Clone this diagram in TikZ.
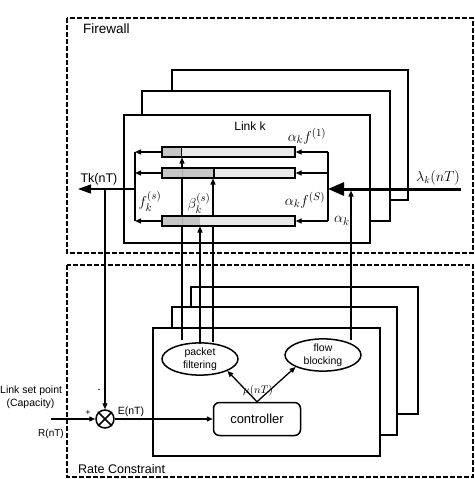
\documentclass[tikz,border=0pt]{standalone}
\usepackage{fontspec}
\setmainfont{Liberation Sans}
\usetikzlibrary{arrows.meta,shapes.geometric}
\begin{document}
\begin{tikzpicture}[x=1pt,y=-1pt,
  box/.style={draw,line width=1.5pt,fill=white},
  zone/.style={draw,line width=1.6pt,dash pattern=on 5pt off 2pt},
  wire/.style={line width=1.3pt},
  arr/.style={wire,-{Triangle[length=6pt,width=5pt]}},
  bar/.style={draw,line width=1.3pt,minimum width=133pt,minimum height=10pt,inner sep=0pt},
  shade/.style={fill=gray!45},
  lbl/.style={inner sep=0pt,font=\fontsize{10.5}{12}\selectfont},
  mlbl/.style={inner sep=0pt,font=\fontsize{15}{16}\selectfont},
  oval/.style={draw,line width=1.5pt,ellipse,minimum width=76pt,minimum height=31pt,inner sep=0pt,align=center,font=\fontsize{10.5}{13}\selectfont}]
\useasboundingbox (0,0) rectangle (474,479);
% zones
\draw[zone] (67,18) rectangle (473,253);
\draw[zone] (67,265) rectangle (473,477);
\node[lbl,font=\fontsize{13.5}{15}\selectfont,anchor=west] (fw) at (83,29) {Firewall};
\node[lbl,font=\fontsize{12.5}{14}\selectfont,anchor=west] (rc) at (78,469) {Rate Constraint};
% firewall link boxes
\draw[box] (172,70) rectangle (408,200);
\draw[box] (142,91) rectangle (390,221);
\draw[box] (124,115) rectangle (370,243);
\node[lbl,font=\fontsize{12}{14}\selectfont] (lk) at (250,126) {Link k};
% rate constraint boxes
\draw[box] (191,287) rectangle (418,414);
\draw[box] (172,307) rectangle (397,435);
\draw[box] (153,328) rectangle (380,456);
% control lines up (drawn beneath the bars)
\coordinate (p1) at (182,340);
\coordinate (p2) at (200,344);
\coordinate (p3) at (213,342);
\coordinate (p4) at (351,340);
\draw[arr] (p1) -- (182,157.5);
\draw[arr] (p2) -- (200,226.5);
\draw[arr] (p3) -- (213,178.5);
\draw[arr] (p4) -- (351,190.5);
% bars
\node[bar,fill=gray!18] (b1) at (228.5,152) {};
\node[bar,fill=gray!18] (b2) at (228.5,173) {};
\node[bar,fill=gray!18] (b3) at (228.5,221) {};
\fill[shade] (162.6,147.6) rectangle (181,156.4);
\fill[shade] (162.6,168.6) rectangle (214,177.4);
\fill[shade] (162.6,216.6) rectangle (200,225.4);
\draw[line width=0.8pt,gray!70] (182,168.6) -- (182,177.4) (182,216.6) -- (182,225.4);
\draw[wire] (181.5,147) -- (181.5,157);
\draw[wire] (214,168) -- (214,178);
\node[bar] at (228.5,152) {};
\node[bar] at (228.5,173) {};
\node[bar] at (228.5,221) {};
% left collector
\coordinate (l1) at (135,152);
\coordinate (l2) at (135,173);
\coordinate (l3) at (135,221);
\coordinate (lm) at (135,189);
\draw[wire] (l1) -- (l3);
\draw[arr] (b1.west) -- (l1);
\draw[arr] (b2.west) -- (l2);
\draw[arr] (b3.west) -- (l3);
% right distributor
\coordinate (r1) at (328,152);
\coordinate (r2) at (328,173);
\coordinate (r3) at (328,221);
\coordinate (rm) at (328,189);
\draw[wire] (r1) -- (r3);
\draw[arr] (r1) -- (b1.east);
\draw[arr] (r2) -- (b2.east);
\draw[arr] (r3) -- (b3.east);
% input and output
\coordinate (lin) at (461,189);
\draw[line width=3pt,-{Triangle[length=16pt,width=13pt]}] (lin) -- (rm);
\coordinate (tout) at (78,189);
\draw[wire,-{Triangle[length=13pt,width=9pt]}] (lm) -- (tout);
\node[lbl,font=\fontsize{12.5}{14}\selectfont] (tk) at (99,179) {Tk(nT)};
\node[mlbl,font=\fontsize{14}{16}\selectfont] (lam) at (438,178) {$\lambda_k(nT)$};
\node[mlbl] (af1) at (307,136) {$\alpha_k f^{(1)}$};
\node[mlbl] (afs) at (305,200) {$\alpha_k f^{(S)}$};
\node[mlbl] (fks) at (150,201) {$f_k^{(s)}$};
\node[mlbl] (bks) at (199,203) {$\beta_k^{(s)}$};
\node[mlbl] (ak) at (342,221) {$\alpha_k$};
% rate constraint contents
\node[oval] (pf) at (200,359) {packet\\filtering};
\node[oval] (fb) at (323,355) {flow\\blocking};
\node[draw,line width=1.5pt,rounded corners=6pt,minimum width=87pt,minimum height=33pt,font=\fontsize{13}{15}\selectfont] (ctrl) at (257,419) {controller};
\node[mlbl,font=\fontsize{11}{12}\selectfont] (mu) at (258,391) {$\mu(nT)$};
\draw[arr] (ctrl.north) -- (pf.south east);
\draw[arr] (ctrl.north) -- (fb.south west);
% summing junction
\node[draw,circle,line width=1.5pt,minimum size=18pt,inner sep=0pt] (sum) at (105,419) {};
\draw[line width=1.5pt] (sum.north west) -- (sum.south east) (sum.north east) -- (sum.south west);
\draw[arr] (105,189) -- (sum.north);
\coordinate (rin) at (51,419);
\draw[arr] (rin) -- (sum.west);
\draw[arr] (sum.east) -- (ctrl.west);
\node[lbl,font=\fontsize{10.5}{12}\selectfont] (e) at (131,412) {E(nT)};
\node[lbl,font=\fontsize{9}{10}\selectfont] (pl) at (88,413) {+};
\node[lbl,font=\fontsize{9}{10}\selectfont] (mi) at (99,391) {-};
\node[lbl,anchor=west] (lsp) at (0,391) {Link set point};
\node[lbl] (cap) at (30.5,404) {(Capacity)};
\node[lbl,font=\fontsize{10}{12}\selectfont,anchor=east] (r) at (64,434) {R(nT)};
\end{tikzpicture}
\end{document}
